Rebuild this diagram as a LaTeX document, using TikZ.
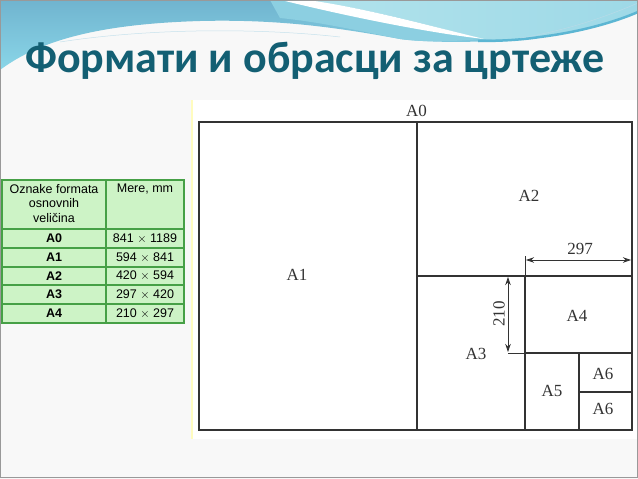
\documentclass[tikz,border=0pt]{standalone}
\usepackage{fontspec}
\setmainfont{Liberation Serif}
\newfontfamily\titlefont{Carlito}
\newfontfamily\tabfont{Liberation Sans}
\usetikzlibrary{arrows.meta}
\definecolor{titleblue}{HTML}{135F73}
\definecolor{tabgreen}{HTML}{CDF3C6}
\definecolor{tabline}{HTML}{46A046}
\definecolor{frame}{HTML}{333333}
\definecolor{slidebg}{HTML}{F8F8F8}
\definecolor{waveTop}{HTML}{70B4CF}
\definecolor{waveBot}{HTML}{8AD6E8}
\definecolor{waveMid}{HTML}{8CCFE1}
\definecolor{waveLight}{HTML}{B2E3EC}
\definecolor{waveLight2}{HTML}{9ED9E7}
\definecolor{waveStripe}{HTML}{5CB6D3}
\tikzset{
  sheet/.style={draw=frame, line width=1.6},
  lbl/.style={font=\fontsize{17}{17}\selectfont, text=frame, inner sep=0pt},
  cellhead/.style={font=\tabfont\fontsize{12.5}{14.5}\selectfont, align=center, inner sep=0pt},
  cellbold/.style={font=\tabfont\bfseries\fontsize{12.5}{14}\selectfont, inner sep=0pt},
  cellval/.style={font=\tabfont\fontsize{12.5}{14}\selectfont, inner sep=0pt},
  dim/.style={draw=frame, line width=0.8, {Stealth[length=8pt,width=5.5pt]}-{Stealth[length=8pt,width=5.5pt]}},
  ext/.style={draw=frame, line width=0.6}
}
\begin{document}
\begin{tikzpicture}[x=1pt,y=-1pt]
\useasboundingbox (0,0) rectangle (638,479);
% slide background
\fill[slidebg] (0,0) rectangle (638,479);
% header wave
\shade[top color=waveTop, bottom color=waveBot]
  (0,0) -- (638,0) -- (638,12)
  .. controls (615,22) and (580,32) .. (540,37)
  .. controls (500,42) and (440,44) .. (400,39)
  .. controls (340,28) and (280,19) .. (200,21)
  .. controls (100,24) and (40,40) .. (0,70) -- cycle;
\fill[waveMid] (270,0) -- (300,0)
  .. controls (370,8) and (430,26) .. (482,39)
  .. controls (450,42) and (420,42) .. (400,39)
  .. controls (360,31) and (320,22) .. (280,18) -- cycle;
\shade[left color=waveLight, right color=waveLight2]
  (300,0) -- (638,0) -- (638,12)
  .. controls (615,22) and (580,32) .. (540,37)
  .. controls (515,40) and (495,40) .. (482,39)
  .. controls (430,26) and (370,8) .. (300,0) -- cycle;
\fill[white] (281,0) -- (308,0)
  .. controls (370,9) and (430,26) .. (484,39)
  .. controls (430,33) and (350,17) .. (281,0) -- cycle;
\draw[waveStripe, line width=2.5] (478,41)
  .. controls (500,41) and (520,40) .. (540,37)
  .. controls (580,32) and (615,22) .. (638,12);
\draw[white!60!waveTop, line width=0.5] (60,42) .. controls (150,28) and (260,28) .. (340,37);
\draw[white!50!waveTop, line width=0.5] (520,38) .. controls (570,30) and (610,15) .. (638,3);
% title
\node[anchor=base west, inner sep=0pt, text=titleblue,
      font=\titlefont\bfseries\fontsize{44}{44}\selectfont] (title) at (25,72)
  {Формати и обрасци за цртеже};
% drawing image area
\fill[white] (192,100) rectangle (638,439);
\draw[yellow!25!white, line width=1.2] (192,100) -- (192,439);
% table
\fill[tabgreen] (2,180) rectangle (184,323);
\draw[tabline, line width=1.2] (2,180) rectangle (184,323);
\draw[tabline, line width=1.2] (106,180) -- (106,323);
\foreach \yy in {229,248,267,285,304} {
  \draw[tabline, line width=1.2] (2,\yy) -- (184,\yy);
}
\node[cellhead, anchor=north] (h1) at (54,184) {Oznake formata\\osnovnih\\veli\v{c}ina};
\node[cellhead, anchor=north] (h2) at (145,184) {Mere, mm};
\node[cellbold] (r0) at (54,238.5) {A0};
\node[cellbold] (r1) at (54,257.5) {A1};
\node[cellbold] (r2) at (54,276) {A2};
\node[cellbold] (r3) at (54,294.5) {A3};
\node[cellbold] (r4) at (54,313.5) {A4};
\node[cellval] (v0) at (145,238.5) {841 $\times$ 1189};
\node[cellval] (v1) at (145,257.5) {594 $\times$ 841};
\node[cellval] (v2) at (145,276) {420 $\times$ 594};
\node[cellval] (v3) at (145,294.5) {297 $\times$ 420};
\node[cellval] (v4) at (145,313.5) {210 $\times$ 297};
% sheets
\draw[sheet] (199,122) rectangle (632,430);
\draw[sheet] (417,122) -- (417,430);
\draw[sheet] (417,276) -- (632,276);
\draw[sheet] (525,276) -- (525,430);
\draw[sheet] (525,353) -- (632,353);
\draw[sheet] (579,353) -- (579,430);
\draw[sheet] (579,392) -- (632,392);
% labels
\node[lbl] (a0) at (416.5,111) {A0};
\node[lbl] (a1) at (297,275) {A1};
\node[lbl] (a2) at (529,196) {A2};
\node[lbl] (a3) at (476,354) {A3};
\node[lbl] (a4) at (577,316) {A4};
\node[lbl] (a5) at (552,391) {A5};
\node[lbl] (a6a) at (603,374) {A6};
\node[lbl] (a6b) at (603,409) {A6};
% dimensions
\coordinate (e1a) at (525,276);
\coordinate (e1b) at (525,256);
\draw[ext] (e1a) -- (e1b);
\coordinate (d1a) at (526,260);
\coordinate (d1b) at (631,260);
\draw[dim] (d1a) -- (d1b);
\node[lbl] (t297) at (580,249) {297};
\coordinate (e2a) at (525,353);
\coordinate (e2b) at (508,353);
\draw[ext] (e2a) -- (e2b);
\coordinate (d2a) at (508,277);
\coordinate (d2b) at (508,352);
\draw[dim] (d2a) -- (d2b);
\node[lbl, rotate=90] (t210) at (499,314) {210};
% slide border
\draw[gray!80, line width=1.2] (0.6,0.6) rectangle (637.4,477.6);
\end{tikzpicture}
\end{document}
